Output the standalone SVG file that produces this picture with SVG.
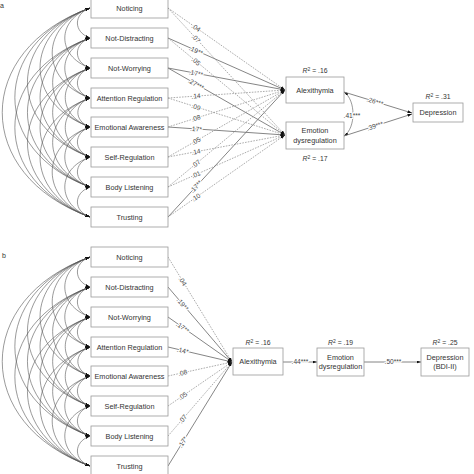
<svg xmlns="http://www.w3.org/2000/svg" xmlns:xlink="http://www.w3.org/1999/xlink" width="474" height="474" viewBox="0 0 474 474">
<style>
.box{fill:#fff;stroke:#999;stroke-width:0.8}
.lbl{font-family:"Liberation Sans",Arial,sans-serif;font-size:7.3px;fill:#333;text-anchor:middle}
.coef{font-family:"Liberation Sans",Arial,sans-serif;font-size:6.6px;fill:#444;text-anchor:middle;stroke:#fff;stroke-width:2;paint-order:stroke;stroke-linejoin:round}
.r2{font-family:"Liberation Sans",Arial,sans-serif;font-size:6.8px;fill:#333;text-anchor:middle}
.sup{font-size:5px}
.cov{fill:none;stroke:#555;stroke-width:0.6;marker-start:url(#ah);marker-end:url(#ah)}
.sol{fill:none;stroke:#777;stroke-width:0.9;marker-end:url(#ah)}
.dsh{fill:none;stroke:#888;stroke-width:0.7;stroke-dasharray:1.6 1.2;marker-end:url(#ah)}
.panel{font-family:"Liberation Sans",Arial,sans-serif;font-size:7px;fill:#333}
</style>
<defs>
<marker id="ah" viewBox="0 0 6 4" refX="6" refY="2" markerWidth="4.5" markerHeight="3" markerUnits="userSpaceOnUse" orient="auto-start-reverse"><path d="M0,0L6,2L0,4z" fill="#111"/></marker>
<g id="covs">
<path class="cov" d="M90,8C73.2,14 73.2,32 90,38"/>
<path class="cov" d="M90,38C73.2,44 73.2,62 90,68"/>
<path class="cov" d="M90,68C73.2,74 73.2,92 90,98"/>
<path class="cov" d="M90,98C73.8,103.8 73.8,121.2 90,127"/>
<path class="cov" d="M90,127C73.2,133 73.2,151 90,157"/>
<path class="cov" d="M90,157C73.2,163 73.2,181 90,187"/>
<path class="cov" d="M90,187C73.2,193 73.2,211 90,217"/>
<path class="cov" d="M90,8C56.4,20 56.4,56 90,68"/>
<path class="cov" d="M90,38C56.4,50 56.4,86 90,98"/>
<path class="cov" d="M90,68C57,79.8 57,115.2 90,127"/>
<path class="cov" d="M90,98C57,109.8 57,145.2 90,157"/>
<path class="cov" d="M90,127C56.4,139 56.4,175 90,187"/>
<path class="cov" d="M90,157C56.4,169 56.4,205 90,217"/>
<path class="cov" d="M90,8C39.6,26 39.6,80 90,98"/>
<path class="cov" d="M90,38C40.2,55.8 40.2,109.2 90,127"/>
<path class="cov" d="M90,68C40.2,85.8 40.2,139.2 90,157"/>
<path class="cov" d="M90,98C40.2,115.8 40.2,169.2 90,187"/>
<path class="cov" d="M90,127C39.6,145 39.6,199 90,217"/>
<path class="cov" d="M90,8C23.4,31.8 23.4,103.2 90,127"/>
<path class="cov" d="M90,38C23.4,61.8 23.4,133.2 90,157"/>
<path class="cov" d="M90,68C23.4,91.8 23.4,163.2 90,187"/>
<path class="cov" d="M90,98C23.4,121.8 23.4,193.2 90,217"/>
<path class="cov" d="M90,8C6.6,37.8 6.6,127.2 90,157"/>
<path class="cov" d="M90,38C6.6,67.8 6.6,157.2 90,187"/>
<path class="cov" d="M90,68C6.6,97.8 6.6,187.2 90,217"/>
<path class="cov" d="M90,8C-10.2,43.8 -10.2,151.2 90,187"/>
<path class="cov" d="M90,38C-10.2,73.8 -10.2,181.2 90,217"/>
<path class="cov" d="M90,8C-27,49.8 -27,175.2 90,217"/>
</g>
</defs>

<text class="panel" x="0" y="8">a</text>
<text class="panel" x="2" y="258">b</text>

<g id="connectors">
<use xlink:href="#covs" href="#covs"/>
<use xlink:href="#covs" href="#covs" transform="translate(0,249)"/>
<line class="dsh" x1="168" y1="8" x2="285" y2="90"/>
<line class="dsh" x1="168" y1="8" x2="285" y2="135"/>
<line class="sol" x1="168" y1="38" x2="285" y2="90"/>
<line class="dsh" x1="168" y1="38" x2="285" y2="135"/>
<line class="sol" x1="168" y1="68" x2="285" y2="90"/>
<line class="sol" x1="168" y1="68" x2="285" y2="135"/>
<line class="dsh" x1="168" y1="98" x2="285" y2="90"/>
<line class="dsh" x1="168" y1="98" x2="285" y2="135"/>
<line class="dsh" x1="168" y1="127" x2="285" y2="90"/>
<line class="sol" x1="168" y1="127" x2="285" y2="135"/>
<line class="dsh" x1="168" y1="157" x2="285" y2="90"/>
<line class="dsh" x1="168" y1="157" x2="285" y2="135"/>
<line class="dsh" x1="168" y1="187" x2="285" y2="90"/>
<line class="dsh" x1="168" y1="187" x2="285" y2="135"/>
<line class="sol" x1="168" y1="217" x2="285" y2="90"/>
<line class="dsh" x1="168" y1="217" x2="285" y2="135"/>
<path class="cov" d="M344,92C356,100 356,128 344,136"/>
<line class="sol" x1="344" y1="92" x2="412" y2="113"/>
<line class="sol" x1="344" y1="136" x2="412" y2="114"/>
<line class="dsh" x1="168" y1="257" x2="232" y2="362"/>
<line class="sol" x1="168" y1="287" x2="232" y2="362"/>
<line class="sol" x1="168" y1="317" x2="232" y2="362"/>
<line class="sol" x1="168" y1="347" x2="232" y2="362"/>
<line class="dsh" x1="168" y1="376" x2="232" y2="362"/>
<line class="dsh" x1="168" y1="406" x2="232" y2="362"/>
<line class="dsh" x1="168" y1="436" x2="232" y2="362"/>
<line class="sol" x1="168" y1="466" x2="232" y2="362"/>
<line class="sol" x1="283" y1="362" x2="317" y2="362"/>
<line class="sol" x1="364" y1="362" x2="421" y2="362"/>
<text class="coef" transform="translate(196,27.7) rotate(35)" dy="2.3">.04</text>
<text class="coef" transform="translate(196,38.5) rotate(47.3)" dy="2.3">.07</text>
<text class="coef" transform="translate(196,50.5) rotate(24)" dy="2.3">.19**</text>
<text class="coef" transform="translate(196,61.3) rotate(39.7)" dy="2.3">.05</text>
<text class="coef" transform="translate(196,73.3) rotate(10.6)" dy="2.3">.17**</text>
<text class="coef" transform="translate(196,84.1) rotate(29.8)" dy="2.3">.27***</text>
<text class="coef" transform="translate(196,96.1) rotate(-3.9)" dy="2.3">.14</text>
<text class="coef" transform="translate(196,106.9) rotate(17.5)" dy="2.3">.09</text>
<text class="coef" transform="translate(196,118.1) rotate(-17.5)" dy="2.3">.08</text>
<text class="coef" transform="translate(196,128.9) rotate(3.9)" dy="2.3">.17*</text>
<text class="coef" transform="translate(196,140.9) rotate(-29.8)" dy="2.3">.05</text>
<text class="coef" transform="translate(196,151.7) rotate(-10.6)" dy="2.3">.14</text>
<text class="coef" transform="translate(196,163.7) rotate(-39.7)" dy="2.3">.07</text>
<text class="coef" transform="translate(196,174.5) rotate(-24)" dy="2.3">.01</text>
<text class="coef" transform="translate(196,186.5) rotate(-47.3)" dy="2.3">.17**</text>
<text class="coef" transform="translate(196,197.3) rotate(-35)" dy="2.3">.10</text>
<text class="coef" x="352" y="117.5">.41***</text>
<text class="coef" transform="translate(375,101.5) rotate(17.2)" dy="2.3">.26***</text>
<text class="coef" transform="translate(375,126) rotate(-17.9)" dy="2.3">.39***</text>
<text class="coef" transform="translate(182.7,281.2) rotate(58.6)" dy="2.3">.04</text>
<text class="coef" transform="translate(182.7,304.3) rotate(49.5)" dy="2.3">.19**</text>
<text class="coef" transform="translate(182.7,327.4) rotate(35.1)" dy="2.3">.17**</text>
<text class="coef" transform="translate(182.7,350.5) rotate(13.2)" dy="2.3">.14*</text>
<text class="coef" transform="translate(182.7,372.8) rotate(-12.3)" dy="2.3">.08</text>
<text class="coef" transform="translate(182.7,395.9) rotate(-34.5)" dy="2.3">.05</text>
<text class="coef" transform="translate(182.7,419) rotate(-49.1)" dy="2.3">.07</text>
<text class="coef" transform="translate(182.7,442.1) rotate(-58.4)" dy="2.3">.17*</text>
<text class="coef" x="300" y="364">.44***</text>
<text class="coef" x="393" y="364">.50***</text>
</g>

<g id="a-noticing"><rect class="box" x="91" y="-2" width="77" height="20"/><text class="lbl" x="129.5" y="10.6">Noticing</text></g>
<g id="a-not-distracting"><rect class="box" x="91" y="28" width="77" height="20"/><text class="lbl" x="129.5" y="40.6">Not-Distracting</text></g>
<g id="a-not-worrying"><rect class="box" x="91" y="58" width="77" height="20"/><text class="lbl" x="129.5" y="70.6">Not-Worrying</text></g>
<g id="a-attention-regulation"><rect class="box" x="91" y="88" width="77" height="20"/><text class="lbl" x="129.5" y="100.6">Attention Regulation</text></g>
<g id="a-emotional-awareness"><rect class="box" x="91" y="117" width="77" height="20"/><text class="lbl" x="129.5" y="129.6">Emotional Awareness</text></g>
<g id="a-self-regulation"><rect class="box" x="91" y="147" width="77" height="20"/><text class="lbl" x="129.5" y="159.6">Self-Regulation</text></g>
<g id="a-body-listening"><rect class="box" x="91" y="177" width="77" height="20"/><text class="lbl" x="129.5" y="189.6">Body Listening</text></g>
<g id="a-trusting"><rect class="box" x="91" y="207" width="77" height="20"/><text class="lbl" x="129.5" y="219.6">Trusting</text></g>
<g id="a-alexithymia"><rect class="box" x="286" y="77" width="58" height="26"/><text class="lbl" x="315" y="92.6">Alexithymia</text><text class="r2" x="315" y="73"><tspan font-style="italic">R</tspan><tspan class="sup" dy="-2.2">2</tspan><tspan dy="2.2"> = .16</tspan></text></g>
<g id="a-emotion-dysregulation"><rect class="box" x="286" y="122" width="58" height="27"/><text class="lbl" x="315" y="133">Emotion</text><text class="lbl" x="315" y="142.5">dysregulation</text><text class="r2" x="315" y="161"><tspan font-style="italic">R</tspan><tspan class="sup" dy="-2.2">2</tspan><tspan dy="2.2"> = .17</tspan></text></g>
<g id="a-depression"><rect class="box" x="413" y="103" width="50" height="19"/><text class="lbl" x="438" y="115">Depression</text><text class="r2" x="438" y="99"><tspan font-style="italic">R</tspan><tspan class="sup" dy="-2.2">2</tspan><tspan dy="2.2"> = .31</tspan></text></g>

<g id="b-noticing"><rect class="box" x="91" y="247" width="77" height="20"/><text class="lbl" x="129.5" y="259.6">Noticing</text></g>
<g id="b-not-distracting"><rect class="box" x="91" y="277" width="77" height="20"/><text class="lbl" x="129.5" y="289.6">Not-Distracting</text></g>
<g id="b-not-worrying"><rect class="box" x="91" y="307" width="77" height="20"/><text class="lbl" x="129.5" y="319.6">Not-Worrying</text></g>
<g id="b-attention-regulation"><rect class="box" x="91" y="337" width="77" height="20"/><text class="lbl" x="129.5" y="349.6">Attention Regulation</text></g>
<g id="b-emotional-awareness"><rect class="box" x="91" y="366" width="77" height="20"/><text class="lbl" x="129.5" y="378.6">Emotional Awareness</text></g>
<g id="b-self-regulation"><rect class="box" x="91" y="396" width="77" height="20"/><text class="lbl" x="129.5" y="408.6">Self-Regulation</text></g>
<g id="b-body-listening"><rect class="box" x="91" y="426" width="77" height="20"/><text class="lbl" x="129.5" y="438.6">Body Listening</text></g>
<g id="b-trusting"><rect class="box" x="91" y="456" width="77" height="20"/><text class="lbl" x="129.5" y="468.6">Trusting</text></g>
<g id="b-alexithymia"><rect class="box" x="233" y="348" width="50" height="27"/><text class="lbl" x="258" y="364.2">Alexithymia</text><text class="r2" x="258" y="345"><tspan font-style="italic">R</tspan><tspan class="sup" dy="-2.2">2</tspan><tspan dy="2.2"> = .16</tspan></text></g>
<g id="b-emotion-dysregulation"><rect class="box" x="317" y="348" width="47" height="28"/><text class="lbl" x="340.5" y="359.5">Emotion</text><text class="lbl" x="340.5" y="369">dysregulation</text><text class="r2" x="340.5" y="345"><tspan font-style="italic">R</tspan><tspan class="sup" dy="-2.2">2</tspan><tspan dy="2.2"> = .19</tspan></text></g>
<g id="b-depression"><rect class="box" x="421" y="348" width="48" height="28"/><text class="lbl" x="445" y="359.5">Depression</text><text class="lbl" x="445" y="369">(BDI-II)</text><text class="r2" x="445" y="345"><tspan font-style="italic">R</tspan><tspan class="sup" dy="-2.2">2</tspan><tspan dy="2.2"> = .25</tspan></text></g>
</svg>
